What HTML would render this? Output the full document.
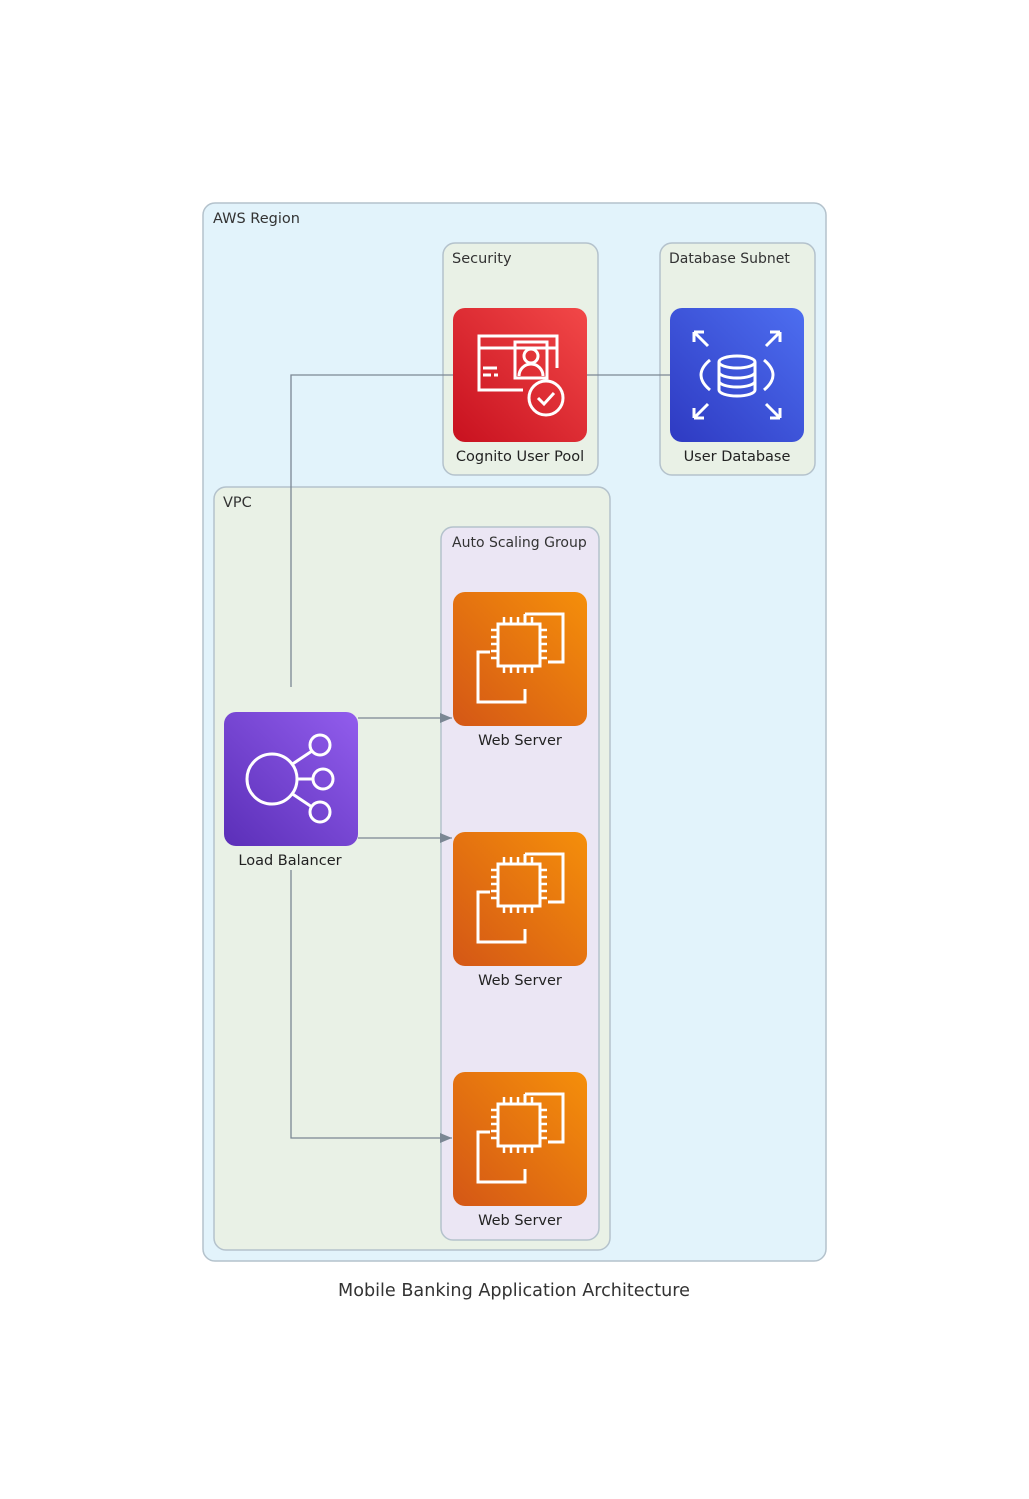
<!DOCTYPE html>
<html><head><meta charset="utf-8"><style>html,body{margin:0;padding:0;background:#fff}svg{display:block}text{font-family:"DejaVu Sans","Liberation Sans",sans-serif}</style></head>
<body>
<svg width="1029" height="1499" viewBox="0 0 1029 1499" xmlns="http://www.w3.org/2000/svg">
<defs>
<linearGradient id="gr" x1="0" y1="1" x2="1" y2="0"><stop offset="0" stop-color="#c8111f"/><stop offset="1" stop-color="#f24848"/></linearGradient>
<linearGradient id="gb" x1="0" y1="1" x2="1" y2="0"><stop offset="0" stop-color="#2e3ac2"/><stop offset="1" stop-color="#4d6ef0"/></linearGradient>
<linearGradient id="go" x1="0" y1="1" x2="1" y2="0"><stop offset="0" stop-color="#d45716"/><stop offset="1" stop-color="#f58f0a"/></linearGradient>
<linearGradient id="gp" x1="0" y1="1" x2="1" y2="0"><stop offset="0" stop-color="#5b2fb8"/><stop offset="1" stop-color="#925ded"/></linearGradient>
<marker id="ar" markerWidth="12" markerHeight="10" refX="12" refY="5" orient="auto" markerUnits="userSpaceOnUse"><path d="M0,0 L12,5 L0,10 z" fill="#7b8794"/></marker>
<g id="ec2" fill="none" stroke="#fff" stroke-width="3">
<path d="M72,22 H110 V70 H95"/><path d="M72,22 V30"/>
<path d="M37,60 H25 V110 H72 V97"/>
<rect x="45" y="32" width="42" height="42"/>
<path d="M51,25v7M58,25v7M65,25v7M72,25v7M79,25v7M51,74v7M58,74v7M65,74v7M72,74v7M79,74v7M38,38h7M38,45h7M38,52h7M38,59h7M38,66h7M87,38h7M87,45h7M87,52h7M87,59h7M87,66h7" stroke-width="2.5"/>
</g>
</defs>
<rect x="203" y="203" width="623" height="1058" rx="12" fill="#e2f3fb" stroke="#b4c2cc" stroke-width="1.5"/>
<text x="213" y="223" font-size="14.5" fill="#333">AWS Region</text>
<rect x="443" y="243" width="155" height="232" rx="12" fill="#e9f1e6" stroke="#b4c2cc" stroke-width="1.5"/>
<text x="452" y="263" font-size="14.5" fill="#333">Security</text>
<rect x="660" y="243" width="155" height="232" rx="12" fill="#e9f1e6" stroke="#b4c2cc" stroke-width="1.5"/>
<text x="669" y="263" font-size="14" fill="#333">Database Subnet</text>
<rect x="214" y="487" width="396" height="763" rx="12" fill="#e9f1e6" stroke="#b4c2cc" stroke-width="1.5"/>
<text x="223" y="507" font-size="14.5" fill="#333">VPC</text>
<rect x="441" y="527" width="158" height="713" rx="12" fill="#ebe6f4" stroke="#b4c2cc" stroke-width="1.5"/>
<text x="452" y="547" font-size="14" fill="#333">Auto Scaling Group</text>
<g stroke="#7b8794" stroke-width="1.3" fill="none">
<path d="M291,687 V375 H453"/><path d="M587,375 H670"/>
<path d="M358,718 H452" marker-end="url(#ar)"/>
<path d="M358,838 H452" marker-end="url(#ar)"/>
<path d="M291,870 V1138 H452" marker-end="url(#ar)"/>
</g>
<rect x="453" y="308" width="134" height="134" rx="12" fill="url(#gr)"/>
<g fill="none" stroke="#fff" stroke-width="3" transform="translate(453,308)">
<path d="M70,82 H26 V28 H104 V60"/><path d="M26,40 H104"/><path d="M30,60h14M30,67h8M41,67h4"/>
<rect x="62" y="34" width="32" height="36"/><circle cx="78" cy="48" r="7"/><path d="M66,68 a12,12 0 0 1 24,0"/>
<circle cx="93" cy="90" r="17"/><path d="M85,90 l6,6 l10,-11"/>
</g>
<text x="520" y="461" font-size="14.5" fill="#222" text-anchor="middle">Cognito User Pool</text>
<rect x="670" y="308" width="134" height="134" rx="12" fill="url(#gb)"/>
<g fill="none" stroke="#fff" stroke-width="3" transform="translate(670,308)">
<ellipse cx="67" cy="54" rx="18" ry="6"/><path d="M49,54 V82 a18,6 0 0 0 36,0 V54"/><path d="M49,64 a18,6 0 0 0 36,0M49,73 a18,6 0 0 0 36,0"/>
<path d="M40,52 q-18,15 0,30M94,52 q18,15 0,30"/>
<path d="M24,24 l14,14M24,24h10M24,24v10M110,24 l-14,14M110,24h-10M110,24v10M24,110 l14,-14M24,110h10M24,110v-10M110,110 l-14,-14M110,110h-10M110,110v-10"/>
</g>
<text x="737" y="461" font-size="14.5" fill="#222" text-anchor="middle">User Database</text>
<rect x="453" y="592" width="134" height="134" rx="12" fill="url(#go)"/><use href="#ec2" x="453" y="592"/>
<text x="520" y="745" font-size="14.5" fill="#222" text-anchor="middle">Web Server</text>
<rect x="453" y="832" width="134" height="134" rx="12" fill="url(#go)"/><use href="#ec2" x="453" y="832"/>
<text x="520" y="985" font-size="14.5" fill="#222" text-anchor="middle">Web Server</text>
<rect x="453" y="1072" width="134" height="134" rx="12" fill="url(#go)"/><use href="#ec2" x="453" y="1072"/>
<text x="520" y="1225" font-size="14.5" fill="#222" text-anchor="middle">Web Server</text>
<rect x="224" y="712" width="134" height="134" rx="12" fill="url(#gp)"/>
<g fill="none" stroke="#fff" stroke-width="3" transform="translate(224,712)">
<circle cx="48" cy="67" r="25"/><circle cx="96" cy="33" r="10"/><circle cx="99" cy="67" r="10"/><circle cx="96" cy="100" r="10"/>
<path d="M67,53 L88,39M73,67 H89M67,81 L88,95"/>
</g>
<text x="290" y="865" font-size="14.5" fill="#222" text-anchor="middle">Load Balancer</text>
<text x="514" y="1296" font-size="17.6" fill="#333" text-anchor="middle">Mobile Banking Application Architecture</text>
</svg>
</body></html>
